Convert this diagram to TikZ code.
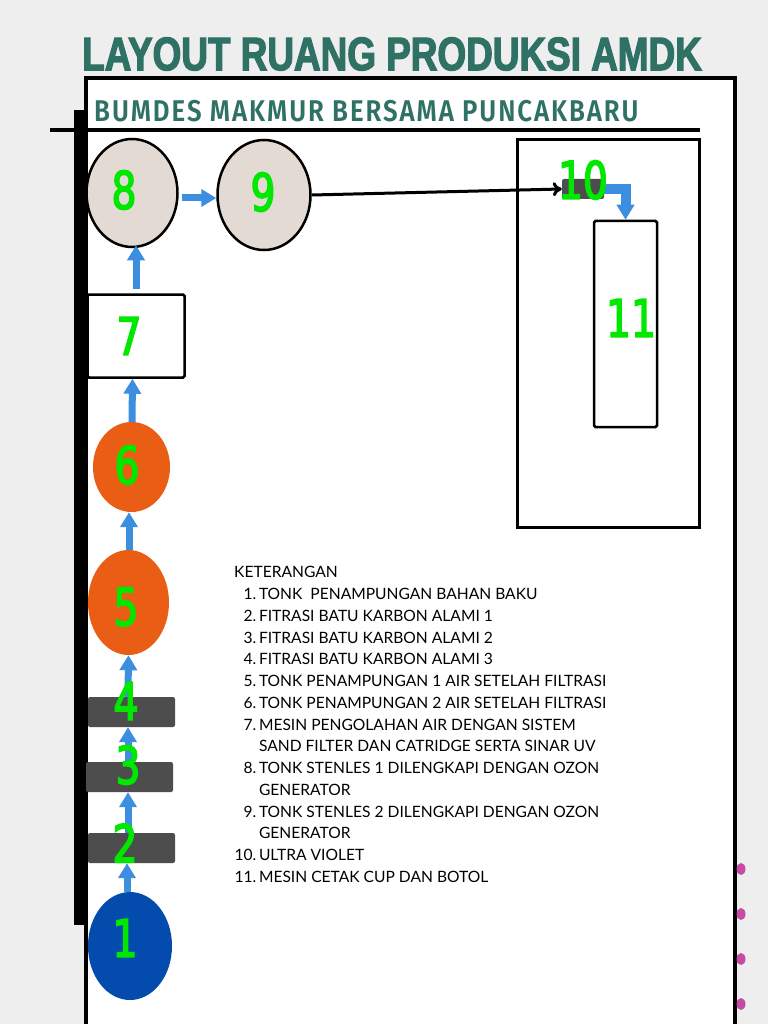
\documentclass[tikz,border=0pt]{standalone}
\usepackage{fontspec}
\usepackage{tikz}
\usetikzlibrary{arrows.meta,matrix,shapes.geometric}
\newfontfamily\titlefont[FakeStretch=0.785,FakeBold=2.5]{Liberation Sans Bold}
\newfontfamily\subfont[FakeStretch=0.86,LetterSpace=6.5]{Fira Sans SemiBold}
\newfontfamily\digitfont[FakeStretch=0.75,FakeBold=3]{DejaVu Sans}
\setmainfont{Lato}
\definecolor{bgrey}{HTML}{EEEEEE}
\definecolor{headgreen}{HTML}{2F7265}
\definecolor{flowblue}{HTML}{3B8EE0}
\definecolor{tankbeige}{HTML}{E3DAD3}
\definecolor{tankorange}{HTML}{E95E14}
\definecolor{tankblue}{HTML}{034CAD}
\definecolor{filtergrey}{HTML}{4D4D4D}
\definecolor{numgreen}{HTML}{00E800}
\definecolor{dotpink}{HTML}{C64BA4}
\tikzset{
    filterbox/.style={draw=none, fill=filtergrey, rounded corners=2pt, minimum width=87pt, minimum height=30pt, inner sep=0pt},
    machine/.style={draw=black, line width=2.5pt, fill=white, rounded corners=1.5pt, inner sep=0pt},
    flow/.style={draw=flowblue, line width=7pt, -{Triangle[length=15pt,width=17pt]}},
    num/.style={text=numgreen, font=\digitfont\fontsize{52}{52}\selectfont, inner sep=0pt},
    dot/.style={ellipse, fill=dotpink, minimum width=9pt, minimum height=12pt, inner sep=0pt}
}
\begin{document}
\begin{tikzpicture}[x=1pt, y=-1pt]
    \useasboundingbox (0,0) rectangle (768,1024);
    \fill[bgrey] (0,0) rectangle (768,1024);
    % Frame and rules
    \fill[white] (85,77) rectangle (735,1024);
    \draw[line width=3.5pt] (86,1024) -- (86,78) -- (735,78) -- (735,1024);
    \fill[black] (74,110) rectangle (87,925);
    \draw[line width=3.5pt] (50,130) -- (700,130);
    % Headings
    \node[anchor=west, inner sep=0pt, text=headgreen, font=\titlefont\fontsize{47}{47}\selectfont] (title) at (82,54) {LAYOUT RUANG PRODUKSI AMDK};
    \node[anchor=west, inner sep=0pt, text=headgreen, font=\subfont\fontsize{30}{30}\selectfont] (subtitle) at (94,111) {BUMDES MAKMUR BERSAMA PUNCAKBARU};
    % Define stations
    \node[ellipse, fill=tankblue, minimum width=84pt, minimum height=108pt, inner sep=0pt] (t1) at (130,946) {};
    \node[filterbox] (b2) at (131.5,848) {};
    \node[filterbox] (b3) at (129.5,777) {};
    \node[filterbox] (b4) at (131.5,712) {};
    \node[ellipse, fill=tankorange, minimum width=81pt, minimum height=105pt, inner sep=0pt] (t5) at (128.5,602.5) {};
    \node[ellipse, fill=tankorange, minimum width=77pt, minimum height=90pt, inner sep=0pt] (t6) at (131.5,467) {};
    \node[machine, minimum width=97pt, minimum height=83pt] (m7) at (136,336) {};
    \node[ellipse, draw=black, line width=2.5pt, fill=tankbeige, minimum width=91pt, minimum height=108pt, inner sep=0pt] (t8) at (132,193) {};
    \node[ellipse, draw=black, line width=2.5pt, fill=tankbeige, minimum width=93pt, minimum height=110pt, inner sep=0pt] (t9) at (264,195) {};
    \node[machine, rounded corners=0pt, line width=3pt, fill=white, minimum width=182pt, minimum height=387pt] (room) at (608,333.5) {};
    \node[filterbox, minimum width=42pt, minimum height=20pt] (b10) at (583,189) {};
    \node[machine, minimum width=63pt, minimum height=206pt] (m11) at (625.5,324) {};
    % Draw arrows
    \draw[flow] ([xshift=-3pt]t1.north) -- ([xshift=-4.5pt]b2.south);
    \draw[flow] ([xshift=-3.5pt]b2.north) -- ([xshift=-1.5pt]b3.south);
    \draw[flow] ([xshift=-1.5pt]b3.north) -- ([xshift=-3.5pt]b4.south);
    \draw[flow] ([xshift=-3.5pt]b4.north) -- (t5.south);
    \draw[flow] ([xshift=.5pt]t5.north) -- ([xshift=-2.5pt]t6.south);
    \draw[flow] ([xshift=.5pt]t6.north) -- ([xshift=-3.5pt]m7.south);
    \draw[flow] ([yshift=4pt]m7.north) -- ([xshift=4pt,yshift=3pt]t8.south);
    \draw[flow] ([xshift=3pt,yshift=-5pt]t8.east) -- ([yshift=-3pt]t9.west);
    \draw[-{To[length=9pt,width=14pt]}, line width=3pt] (t9.east) -- (b10.west);
    \draw[flow, line width=10pt] (b10.east) -| (m11.north);
    % Numbers
    \node[num] (n1) at (125,938) {1};
    \node[num] (n2) at (125,843) {2};
    \node[num] (n3) at (128,765) {3};
    \node[num] (n4) at (126,701) {4};
    \node[num] (n5) at (126,607) {5};
    \node[num] (n6) at (127,465) {6};
    \node[num] (n7) at (129,336) {7};
    \node[num] (n8) at (124,190) {8};
    \node[num] (n9) at (263,192) {9};
    \node[num] (n10) at (583,180) {10};
    \node[num] (n11) at (631,318) {11};
    % Legend
    \node[anchor=west, inner sep=0pt, font=\fontsize{15.6}{16}\selectfont] (legend) at (234,571.5) {KETERANGAN};
    \matrix (k) [matrix of nodes, anchor=north west, row sep=10.75pt, column sep=2.5pt,
        nodes={inner sep=0pt, text height=11pt, text depth=0pt, font=\fontsize{15.6}{16}\selectfont},
        column 1/.style={nodes={anchor=east}}, column 2/.style={nodes={anchor=west}}] at (231,585)
    {
        1. & TONK\ \ PENAMPUNGAN BAHAN BAKU\\
        2. & FITRASI BATU KARBON ALAMI 1\\
        3. & FITRASI BATU KARBON ALAMI 2\\
        4. & FITRASI BATU KARBON ALAMI 3\\
        5. & TONK PENAMPUNGAN 1 AIR SETELAH FILTRASI\\
        6. & TONK PENAMPUNGAN 2 AIR SETELAH FILTRASI\\
        7. & MESIN PENGOLAHAN AIR DENGAN SISTEM\\
           & SAND FILTER DAN CATRIDGE SERTA SINAR UV\\
        8. & TONK STENLES 1 DILENGKAPI DENGAN OZON\\
           & GENERATOR\\
        9. & TONK STENLES 2 DILENGKAPI DENGAN OZON\\
           & GENERATOR\\
        10. & ULTRA VIOLET\\
        11. & MESIN CETAK CUP DAN BOTOL\\
    };
    % Dots
    \node[dot] (d1) at (741,869) {};
    \node[dot] (d2) at (741,914) {};
    \node[dot] (d3) at (741,959) {};
    \node[dot] (d4) at (741,1004) {};
\end{tikzpicture}
\end{document}
